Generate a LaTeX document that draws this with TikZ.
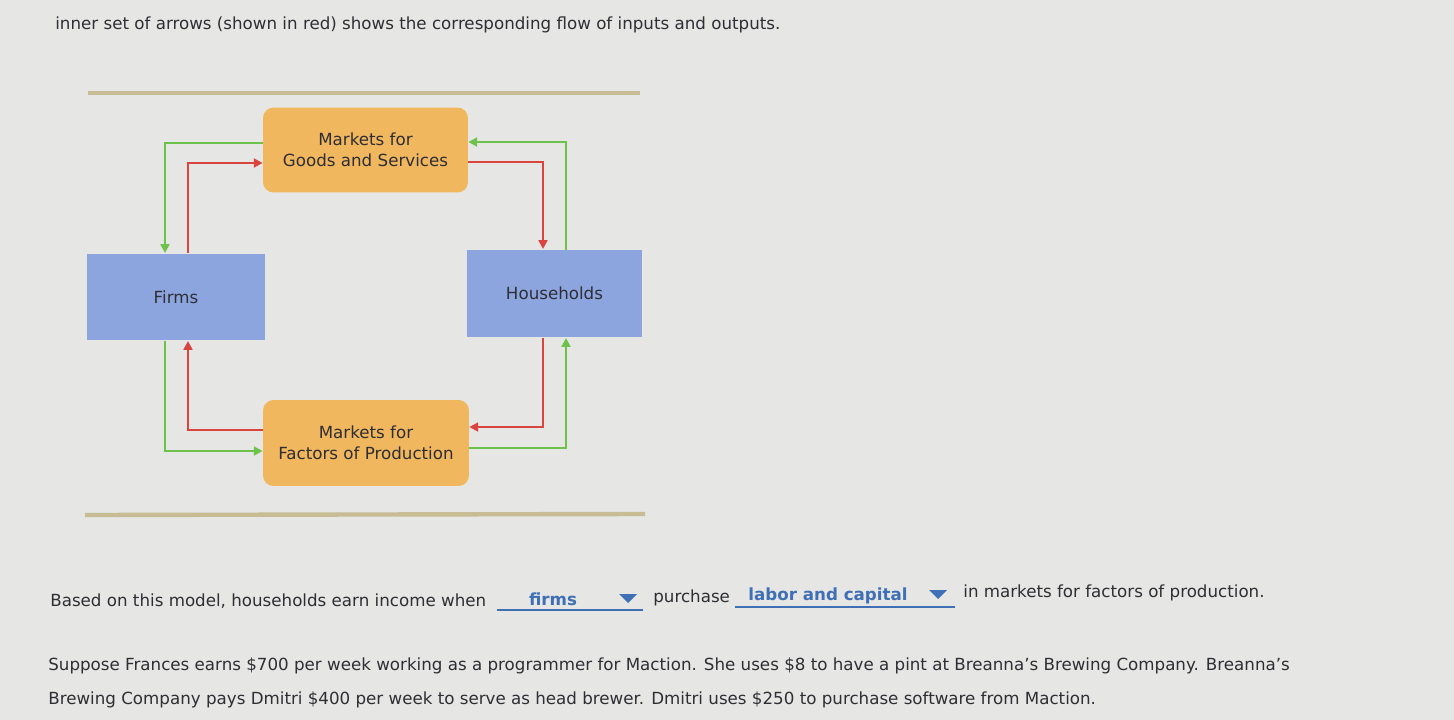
\documentclass[tikz,border=0pt]{standalone}
\usepackage{fontspec}
\setmainfont{DejaVu Sans}
\usetikzlibrary{arrows.meta}
\definecolor{bg}{HTML}{E6E6E4}
\definecolor{orng}{HTML}{F0B75E}
\definecolor{blu}{HTML}{8CA5DF}
\definecolor{grn}{HTML}{6CC24A}
\definecolor{rd}{HTML}{D9443F}
\definecolor{tan}{HTML}{C8BC95}
\definecolor{lnk}{HTML}{3F6FB5}
\definecolor{txt}{HTML}{2E2E34}
\begin{document}
\begin{tikzpicture}[x=0.02cm,y=-0.02cm,font=\fontsize{9.5pt}{12pt}\selectfont,text=txt,
 mkt/.style={draw=none,fill=orng,rounded corners=6pt,inner sep=0pt,align=center},
 agent/.style={draw=none,fill=blu,inner sep=0pt},
 gflow/.style={grn,line width=1.6pt,-{Triangle[length=5pt,width=5pt]}},
 rflow/.style={rd,line width=1.6pt,-{Triangle[length=5pt,width=5pt]}},
 rule/.style={tan,line width=2.5pt},
 plain/.style={anchor=west,inner sep=0pt},
 pick/.style={text=lnk,font=\fontsize{9.5pt}{12pt}\selectfont\bfseries,inner sep=0pt}]
\fill[bg] (0,0) rectangle (1454,720);
\useasboundingbox (0,0) rectangle (1454,720);
\node[plain] (top) at (55,25) {inner set of arrows (shown in red) shows the corresponding flow of inputs and outputs.};
\coordinate (t1) at (88,93); \coordinate (t2) at (640,93);
\coordinate (b1) at (85,515); \coordinate (b2) at (645,514);
\draw[rule] (t1) -- (t2);
\draw[rule] (b1) -- (b2);
\node[mkt,minimum width=205\pgflinewidth*0+4.1cm,minimum height=1.7cm] (goods) at (365.5,150) {Markets for\\Goods and Services};
\node[mkt,minimum width=4.12cm,minimum height=1.72cm] (fact) at (366,443) {Markets for\\Factors of Production};
\node[agent,minimum width=3.56cm,minimum height=1.72cm] (firms) at (176,297) {Firms};
\node[agent,minimum width=3.5cm,minimum height=1.74cm] (hh) at (554.5,293.5) {Households};
% top left
\draw[gflow] (goods.west |- 0,143) -- (165,143) -- (165,253);
\draw[rflow] (188,253) -- (188,163) -- (goods.west |- 0,163);
% top right
\draw[rflow] (goods.east |- 0,162) -- (543,162) -- (543,249);
\draw[gflow] (566,250) -- (566,142) -- (goods.east |- 0,142);
% bottom left
\draw[gflow] (165,341) -- (165,451) -- (fact.west |- 0,451);
\draw[rflow] (fact.west |- 0,430) -- (188,430) -- (188,341);
% bottom right
\draw[rflow] (543,338) -- (543,427) -- (fact.east |- 0,427);
\draw[gflow] (fact.east |- 0,448) -- (566,448) -- (566,338);
% question
\node[plain] (q1) at (50,601) {Based on this model, households earn income when};
\draw[lnk,line width=1pt] (497,610) -- (643,610);
\node[pick] (d1) at (553,599) {firms};
\fill[lnk] (619,594) -- (637,594) -- (628,603) -- cycle;
\node[plain] (q2) at (653,598) {purchase};
\draw[lnk,line width=1pt] (735,607) -- (955,607);
\node[pick] (d2) at (828,596) {labor and capital};
\fill[lnk] (929,590) -- (947,590) -- (938,599) -- cycle;
\node[plain] (q3) at (963,593) {in markets for factors of production.};
\node[plain] (p1) at (48,666) {Suppose Frances earns \$700 per week working as a programmer for Maction. She uses \$8 to have a pint at Breanna's Brewing Company. Breanna's};
\node[plain] (p2) at (48,700) {Brewing Company pays Dmitri \$400 per week to serve as head brewer. Dmitri uses \$250 to purchase software from Maction.};
\end{tikzpicture}
\end{document}
